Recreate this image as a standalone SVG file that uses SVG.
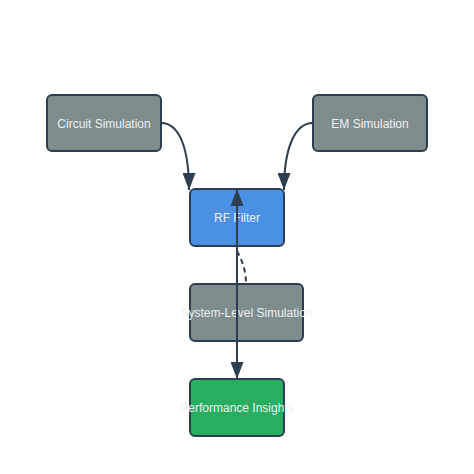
<svg xmlns="http://www.w3.org/2000/svg" width="474" height="474" viewBox="0 0 474 474">
<style>
.n rect{stroke:#2c3e50;stroke-width:2}
.n text{font-family:"Liberation Sans",Arial,sans-serif;font-size:12px;fill:#ecf0f1;text-anchor:middle;dominant-baseline:central}
.e{fill:none;stroke:#2c3e50;stroke-width:2}
</style>
<defs>
<marker id="a" viewBox="0 0 17 13" refX="17" refY="6.5" markerWidth="17" markerHeight="13" markerUnits="userSpaceOnUse" orient="auto">
<path d="M0,0 L17,6.5 L0,13 z" fill="#2c3e50"/>
</marker>
</defs>
<rect width="474" height="474" fill="#fff"/>
<g id="circuit" class="n"><rect x="47" y="95" width="114" height="56" rx="5" fill="#7f8c8d"/><text x="104" y="124">Circuit Simulation</text></g>
<g id="em" class="n"><rect x="313" y="95" width="114" height="56" rx="5" fill="#7f8c8d"/><text x="370" y="124">EM Simulation</text></g>
<g id="rf" class="n"><rect x="190" y="189" width="94" height="57" rx="5" fill="#4a90e2"/><text x="237" y="218">RF Filter</text></g>
<g id="sys" class="n"><rect x="190" y="284" width="113" height="57" rx="5" fill="#7f8c8d"/><text x="246.5" y="313">System-Level Simulation</text></g>
<g id="perf" class="n"><rect x="190" y="379" width="94" height="57" rx="5" fill="#27ae60"/><text x="237" y="408">Performance Insights</text></g>
<g id="connectors">
<path class="e" d="M161,123 C180,123 189,150 189,190" marker-end="url(#a)"/>
<path class="e" d="M313,123 C294,123 284,150 284,190" marker-end="url(#a)"/>
<path class="e" d="M237,246 L237,379" marker-end="url(#a)"/>
<path class="e" d="M237,379 L237,189" marker-end="url(#a)"/>
<path class="e" d="M237,251 C243,262 246,272 246,284" stroke-dasharray="5,4"/>
</g>
</svg>
